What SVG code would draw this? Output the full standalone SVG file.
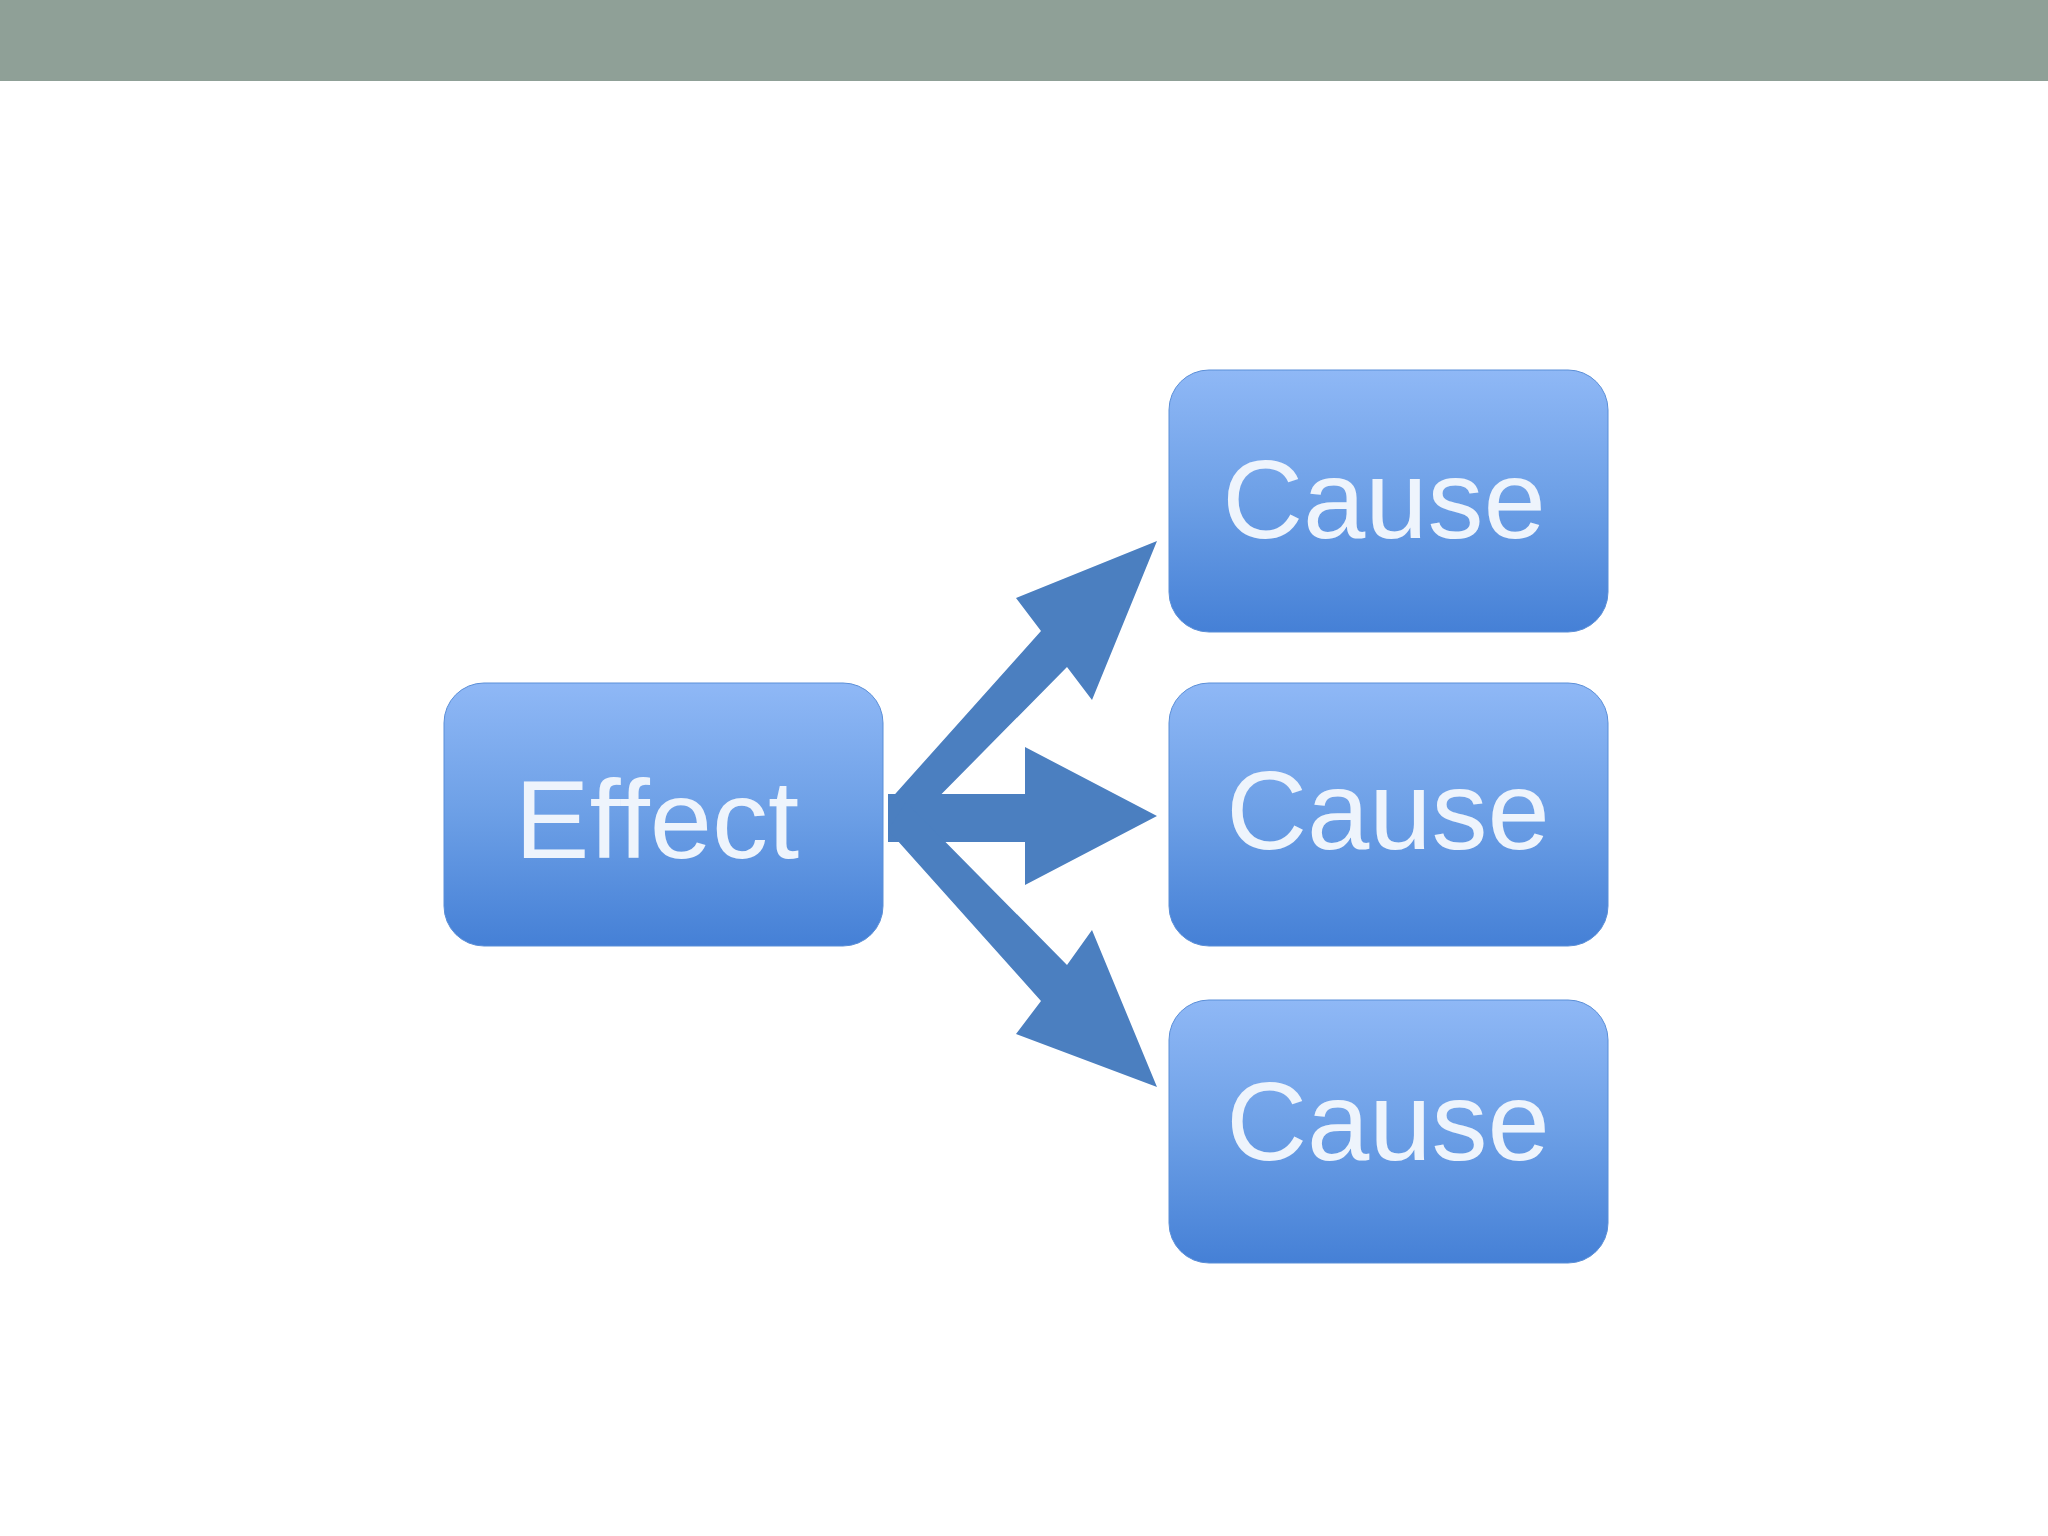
<svg xmlns="http://www.w3.org/2000/svg" width="2048" height="1536" viewBox="0 0 2048 1536">
<defs>
<linearGradient id="g" x1="0" y1="0" x2="0" y2="1">
<stop offset="0" stop-color="#8fb8f6"/>
<stop offset="0.5" stop-color="#6c9fe6"/>
<stop offset="1" stop-color="#4580d6"/>
</linearGradient>
<style>
.box{fill:url(#g);stroke:#5b8fd8;stroke-width:1}
.t{font-family:"Liberation Sans",Arial,sans-serif;font-size:112px;fill:#eef4fc;text-anchor:middle}
.arr{fill:#4b7fc0}
</style>
</defs>
<rect x="0" y="0" width="2048" height="81" fill="#8fa097"/>
<g id="connectors">
<polygon class="arr" points="888,802 1041,631 1016,598 1157,541 1092,700 1067,667 906,830"/>
<polygon class="arr" points="888,794 1025,794 1025,747 1157,816 1025,885 1025,842 888,842"/>
<polygon class="arr" points="906,802 1067,965 1092,930 1157,1087 1016,1034 1041,1001 888,830"/>
</g>
<g id="effect"><rect class="box" x="444" y="683" width="439" height="263" rx="40"/><text class="t" x="657" y="858">Effect</text></g>
<g id="cause1"><rect class="box" x="1169" y="370" width="439" height="262" rx="40"/><text class="t" x="1384" y="538">Cause</text></g>
<g id="cause2"><rect class="box" x="1169" y="683" width="439" height="263" rx="40"/><text class="t" x="1388" y="849">Cause</text></g>
<g id="cause3"><rect class="box" x="1169" y="1000" width="439" height="263" rx="40"/><text class="t" x="1388" y="1160">Cause</text></g>
</svg>
